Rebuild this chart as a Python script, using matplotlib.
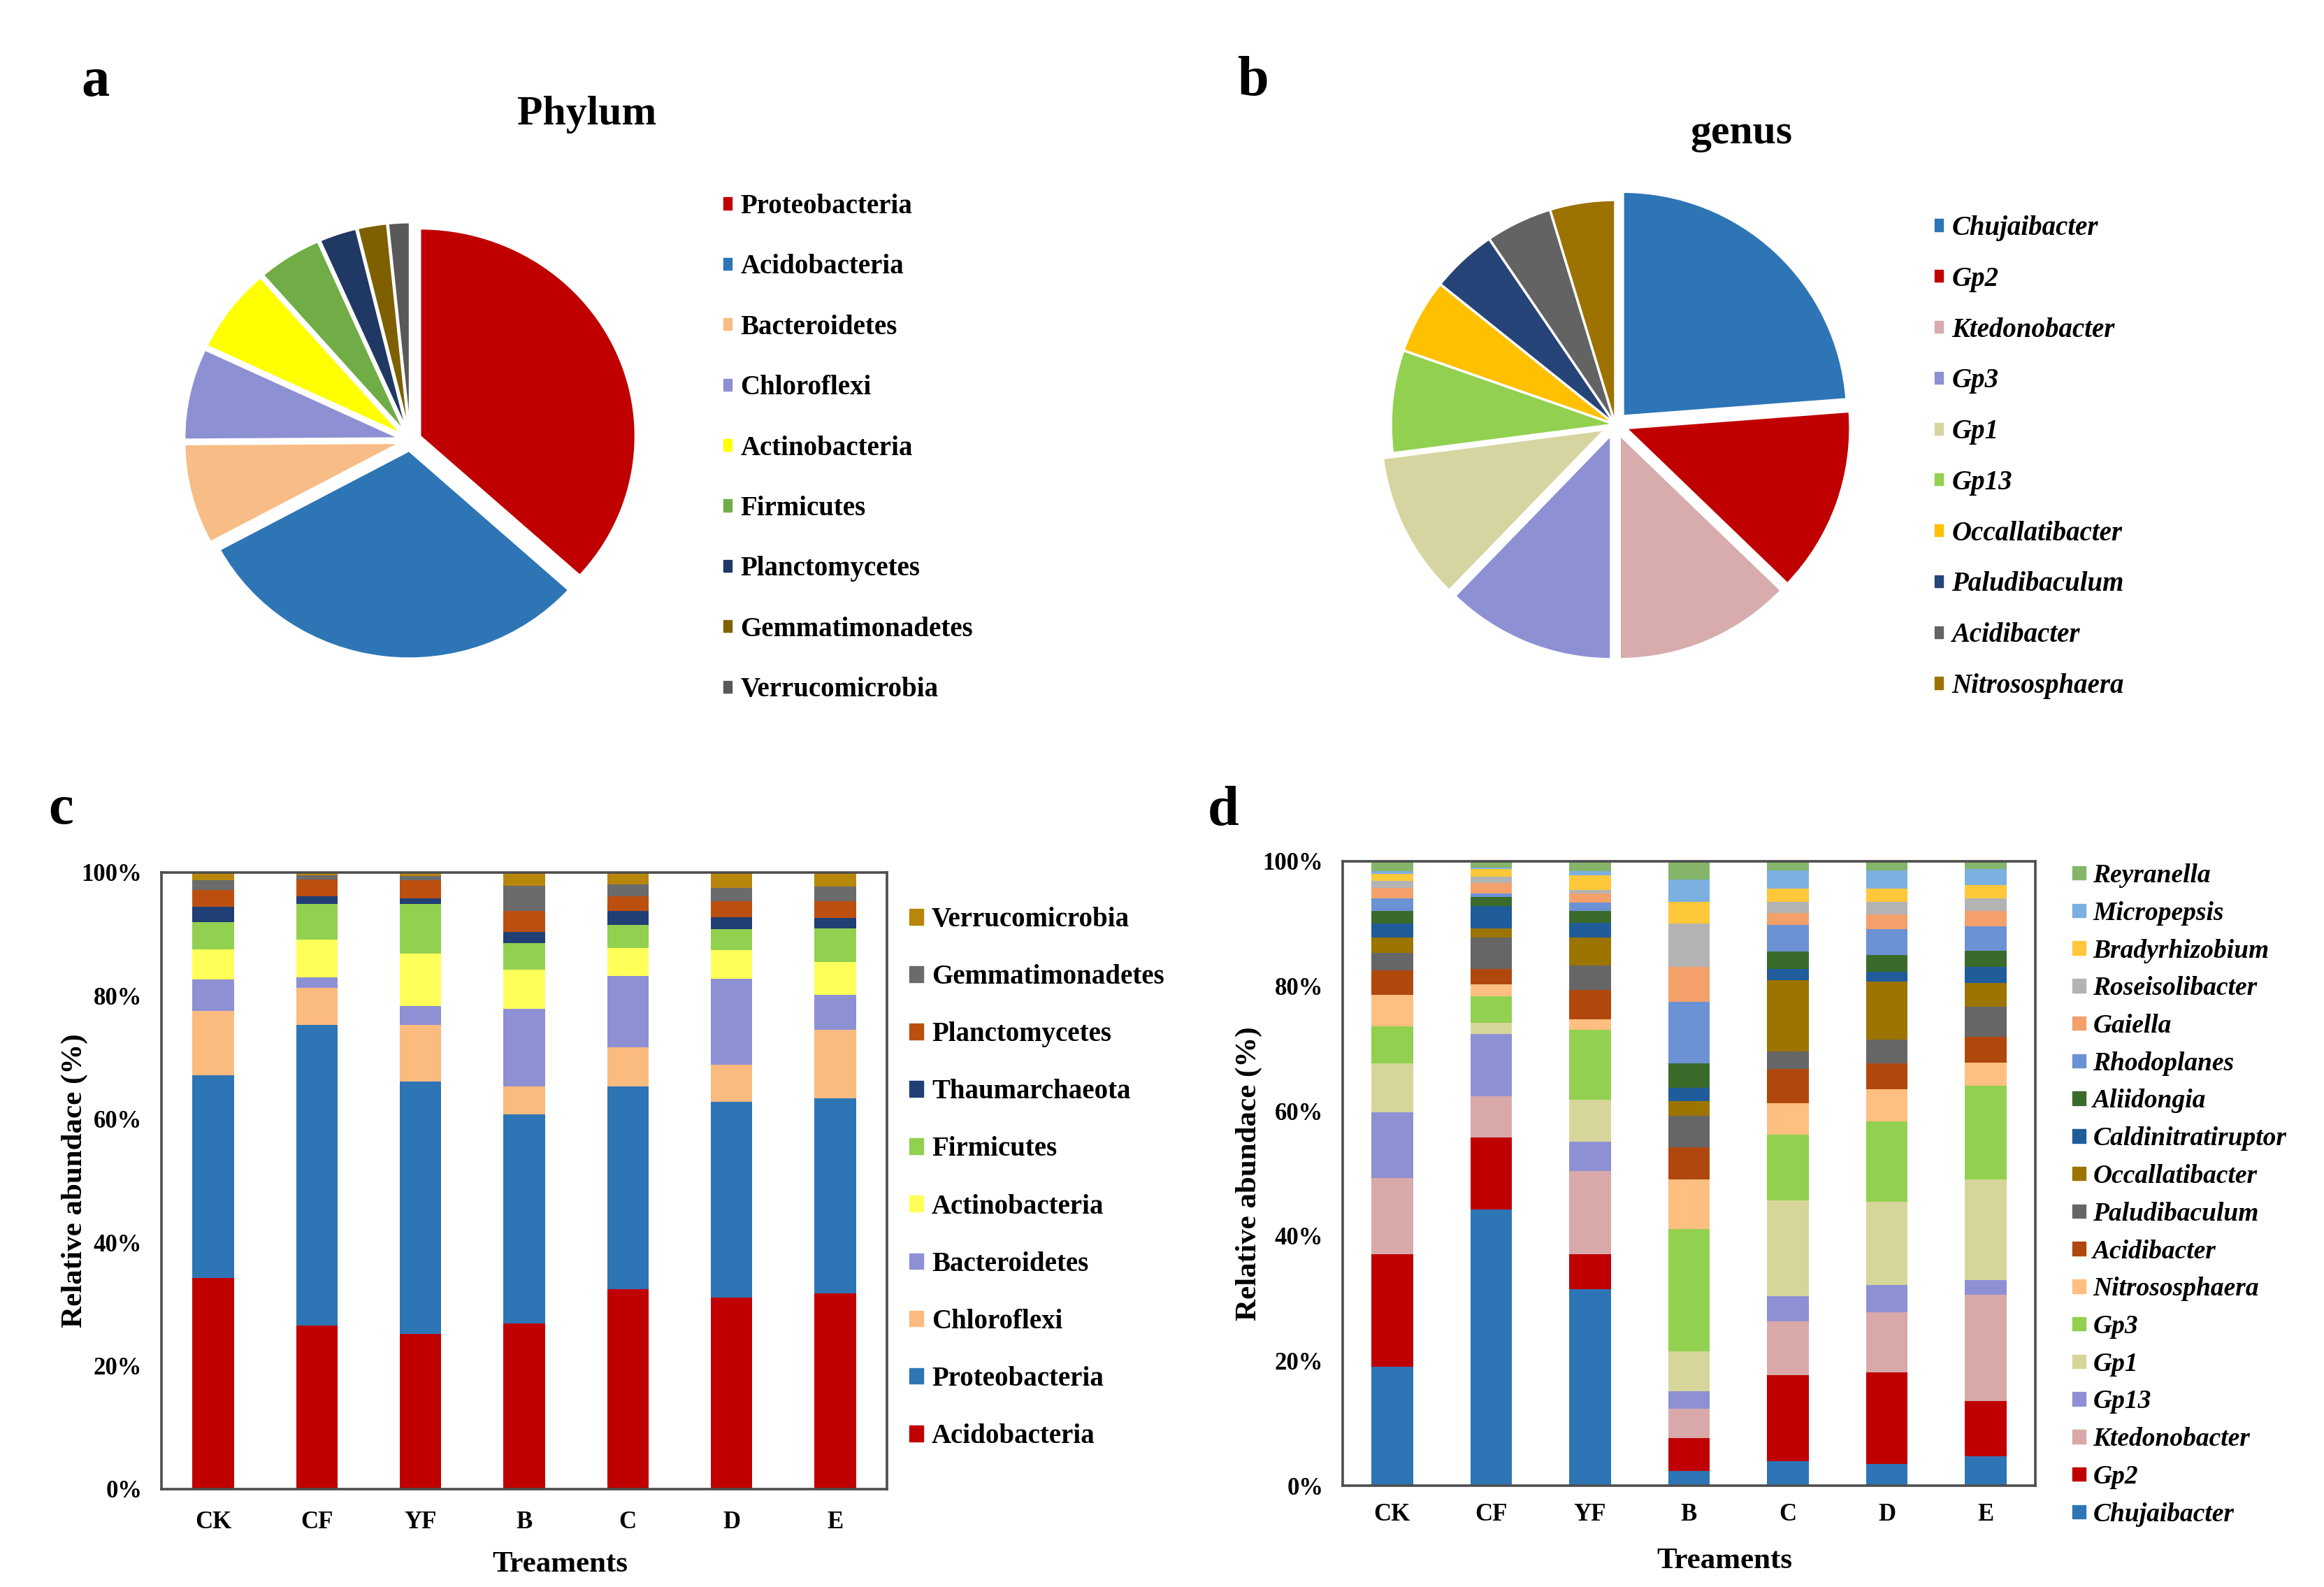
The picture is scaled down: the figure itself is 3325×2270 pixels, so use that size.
import matplotlib
matplotlib.use('Agg')
import matplotlib.pyplot as plt
from matplotlib.patches import Patch
import numpy as np

plt.rcParams['font.family'] = ['Liberation Serif', 'DejaVu Serif']
plt.rcParams['font.weight'] = 'bold'

W, H = 3325, 2270
fig = plt.figure(figsize=(W / 100, H / 100), dpi=100)


def fx(px):
    return px / W


def fy(py):
    return 1 - py / H


# ---------------- data ----------------
phylum_pie_labels = ['Proteobacteria', 'Acidobacteria', 'Bacteroidetes', 'Chloroflexi',
                     'Actinobacteria', 'Firmicutes', 'Planctomycetes', 'Gemmatimonadetes',
                     'Verrucomicrobia']
phylum_pie_values = [36.7, 30.4, 7.8, 7.1, 6.6, 4.8, 2.8, 2.2, 1.6]
phylum_pie_colors = ['#C00000', '#2E75B6', '#F8BC86', '#8E90D4', '#FFFF00', '#70AD47',
                     '#203864', '#7F6000', '#595959']

genus_pie_labels = ['Chujaibacter', 'Gp2', 'Ktedonobacter', 'Gp3', 'Gp1', 'Gp13',
                    'Occallatibacter', 'Paludibaculum', 'Acidibacter', 'Nitrososphaera']
genus_pie_values = [23.8, 13.4, 12.8, 12.25, 10.7, 7.4, 5.4, 4.75, 4.8, 4.7]
genus_pie_colors = ['#2E75B6', '#C00000', '#D8ACAC', '#8E90D4', '#D6D5A1', '#92D050',
                    '#FFC000', '#264478', '#636363', '#9C7300']
genus_pie_explode = [0.05, 0.05, 0.05, 0.05, 0.05, 0, 0, 0, 0, 0]

treatments = ['CK', 'CF', 'YF', 'B', 'C', 'D', 'E']

phylum_bar_labels = ['Acidobacteria', 'Proteobacteria', 'Chloroflexi', 'Bacteroidetes',
                     'Actinobacteria', 'Firmicutes', 'Thaumarchaeota', 'Planctomycetes',
                     'Gemmatimonadetes', 'Verrucomicrobia']
phylum_bar_colors = ['#C00000', '#2E75B6', '#FBBA7E', '#8E90D4', '#FFFF5A', '#92D050',
                     '#203F74', '#BC4F10', '#6B6B6B', '#B8860B']
Acidobacteria = [34.2, 26.5, 25.2, 26.9, 32.4, 31.1, 31.7]
Proteobacteria = [32.9, 48.8, 40.9, 33.9, 32.9, 31.7, 31.7]
Chloroflexi = [10.4, 6.0, 9.2, 4.5, 6.4, 6.0, 11.1]
Bacteroidetes = [5.1, 1.7, 3.0, 12.6, 11.5, 14.0, 5.7]
Actinobacteria = [4.9, 6.1, 8.5, 6.3, 4.5, 4.6, 5.3]
Firmicutes = [4.4, 5.8, 8.1, 4.3, 3.8, 3.4, 5.4]
Thaumarchaeota = [2.6, 1.3, 0.9, 1.9, 2.3, 2.0, 1.7]
Planctomycetes = [2.7, 2.7, 2.9, 3.4, 2.4, 2.5, 2.7]
Gemmatimonadetes = [1.5, 0.6, 0.7, 4.1, 1.9, 2.2, 2.4]
Verrucomicrobia = [1.3, 0.5, 0.6, 2.1, 1.9, 2.5, 2.3]
phylum_bar_values = [Acidobacteria, Proteobacteria, Chloroflexi, Bacteroidetes,
                     Actinobacteria, Firmicutes, Thaumarchaeota, Planctomycetes,
                     Gemmatimonadetes, Verrucomicrobia]

genus_bar_labels = ['Chujaibacter', 'Gp2', 'Ktedonobacter', 'Gp13', 'Gp1', 'Gp3',
                    'Nitrososphaera', 'Acidibacter', 'Paludibaculum', 'Occallatibacter',
                    'Caldinitratiruptor', 'Aliidongia', 'Rhodoplanes', 'Gaiella',
                    'Roseisolibacter', 'Bradyrhizobium', 'Micropepsis', 'Reyranella']
genus_bar_colors = ['#2E75B6', '#C00000', '#D9A9A9', '#8E90D4', '#D6D69A', '#92D050',
                    '#FFBF80', '#B0480E', '#666666', '#9C7400', '#1F5C99', '#3B6B2A',
                    '#6B92D4', '#F4A06A', '#B3B3B3', '#FFC83A', '#7BB0E0', '#84B56A']
Chujaibacter = [19.0, 44.2, 31.5, 2.4, 3.9, 3.5, 4.7]
Gp2 = [18.1, 11.6, 5.6, 5.2, 13.8, 14.6, 8.9]
Ktedonobacter = [12.2, 6.6, 13.3, 4.7, 8.6, 9.7, 17.0]
Gp13 = [10.5, 9.9, 4.7, 2.8, 4.1, 4.3, 2.3]
Gp1 = [7.8, 1.8, 6.7, 6.4, 15.3, 13.4, 16.1]
Gp3 = [6.0, 4.3, 11.2, 19.6, 10.5, 12.8, 15.1]
Nitrososphaera = [5.0, 1.9, 1.7, 8.0, 5.1, 5.2, 3.7]
Acidibacter = [3.9, 2.4, 4.7, 5.1, 5.4, 4.1, 4.1]
Paludibaculum = [2.8, 5.1, 3.9, 5.0, 2.8, 3.9, 4.8]
Occallatibacter = [2.5, 1.4, 4.5, 2.4, 11.5, 9.2, 3.8]
Caldinitratiruptor = [2.2, 3.6, 2.4, 2.1, 1.7, 1.6, 2.6]
Aliidongia = [2.0, 1.5, 1.8, 3.9, 2.8, 2.7, 2.6]
Rhodoplanes = [2.1, 0.5, 1.4, 9.9, 4.3, 4.1, 3.9]
Gaiella = [1.7, 1.7, 1.4, 5.6, 1.9, 2.4, 2.4]
Roseisolibacter = [1.1, 1.0, 0.6, 6.9, 1.8, 2.0, 2.1]
Bradyrhizobium = [1.1, 1.3, 2.4, 3.5, 2.1, 2.1, 2.1]
Micropepsis = [0.4, 0.2, 0.6, 3.6, 3.0, 3.0, 2.6]
Reyranella = [1.6, 1.0, 1.6, 2.9, 1.4, 1.4, 1.2]
genus_bar_values = [Chujaibacter, Gp2, Ktedonobacter, Gp13, Gp1, Gp3, Nitrososphaera,
                    Acidibacter, Paludibaculum, Occallatibacter, Caldinitratiruptor,
                    Aliidongia, Rhodoplanes, Gaiella, Roseisolibacter, Bradyrhizobium,
                    Micropepsis, Reyranella]

y_ticks = [0, 20, 40, 60, 80, 100]
y_tick_labels = ['0%', '20%', '40%', '60%', '80%', '100%']

# ---------------- panel letters & titles ----------------
for txt, x, y in [('a', 116, 137), ('b', 1771, 136), ('c', 69, 1178), ('d', 1728, 1180)]:
    fig.text(fx(x), fy(y), txt, fontsize=58, fontweight='bold', ha='left', va='baseline')
fig.text(fx(840), fy(178), 'Phylum', fontsize=43, fontweight='bold', ha='center', va='baseline')
fig.text(fx(2491), fy(205), 'genus', fontsize=43, fontweight='bold', ha='center', va='baseline')


# ---------------- pies ----------------
def pie_axes(cx, cy, rx, ry):
    return fig.add_axes([fx(cx - 1.25 * rx), fy(cy + 1.25 * ry), 2.5 * rx / W, 2.5 * ry / H])


ax_a = pie_axes(587, 630, 308, 297)
ax_a.pie(phylum_pie_values, colors=phylum_pie_colors, startangle=90, counterclock=False,
         explode=[0.05] * len(phylum_pie_values),
         wedgeprops=dict(edgecolor='white', linewidth=2))
ax_a.set_xlim(-1.25, 1.25)
ax_a.set_ylim(-1.25, 1.25)
ax_a.set_aspect('auto')
ax_a.legend([Patch(color=c) for c in phylum_pie_colors], phylum_pie_labels,
            loc='upper left', bbox_to_anchor=(fx(1035), fy(277)), bbox_transform=fig.transFigure,
            frameon=False, borderpad=0, borderaxespad=0, fontsize=28,
            handlelength=0.3, handleheight=0.3, handletextpad=0.33, labelspacing=1.27)

ax_b = pie_axes(2311, 607, 321, 321)
ax_b.pie(genus_pie_values, colors=genus_pie_colors, startangle=90, counterclock=False,
         explode=genus_pie_explode,
         wedgeprops=dict(edgecolor='white', linewidth=2.5))
ax_b.set_xlim(-1.25, 1.25)
ax_b.set_ylim(-1.25, 1.25)
ax_b.set_aspect('auto')
ax_b.legend([Patch(color=c) for c in genus_pie_colors], genus_pie_labels,
            loc='upper left', bbox_to_anchor=(fx(2768), fy(308)), bbox_transform=fig.transFigure,
            frameon=False, borderpad=0, borderaxespad=0,
            prop=dict(size=28, weight='bold', style='italic'),
            handlelength=0.3, handleheight=0.3, handletextpad=0.33, labelspacing=0.92)


# ---------------- stacked bars ----------------
def stacked(ax, values, colors, width):
    x = np.arange(len(treatments))
    bottom = np.zeros(len(treatments))
    for vals, col in zip(values, colors):
        v = np.array(vals)
        ax.bar(x, v, bottom=bottom, width=width, color=col, linewidth=0)
        bottom += v
    ax.set_xlim(-0.5, len(treatments) - 0.5)
    ax.set_ylim(0, 100)
    ax.set_xticks(x)
    ax.set_xticklabels(treatments)
    ax.set_yticks(y_ticks)
    ax.set_yticklabels(y_tick_labels)
    ax.tick_params(axis='both', length=0, labelsize=25)
    ax.tick_params(axis='y', pad=20)
    ax.tick_params(axis='x', pad=22)
    for s in ax.spines.values():
        s.set_color('#4D4D4D')
        s.set_linewidth(2.6)
    ax.set_ylabel('Relative abundace (%)', fontsize=31, fontweight='bold')
    ax.set_xlabel('Treaments', fontsize=31, fontweight='bold')


ax_c = fig.add_axes([fx(231), fy(2130), 1038 / W, 882 / H])
stacked(ax_c, phylum_bar_values, phylum_bar_colors, 0.4)
ax_c.yaxis.set_label_coords(-0.101, 0.5)
ax_c.xaxis.set_label_coords(0.549, -0.101)
hc = [Patch(color=c) for c in phylum_bar_colors][::-1]
ax_c.legend(hc, phylum_bar_labels[::-1], loc='upper left',
            bbox_to_anchor=(fx(1301), fy(1297)), bbox_transform=fig.transFigure,
            frameon=False, borderpad=0, borderaxespad=0, fontsize=28,
            handlelength=0.52, handleheight=0.52, handletextpad=0.3, labelspacing=1.16)

ax_d = fig.add_axes([fx(1921), fy(2125), 991 / W, 893 / H])
stacked(ax_d, genus_bar_values, genus_bar_colors, 0.42)
ax_d.tick_params(axis='x', pad=18)
ax_d.yaxis.set_label_coords(-0.116, 0.5)
ax_d.xaxis.set_label_coords(0.551, -0.100)
hd = [Patch(color=c) for c in genus_bar_colors][::-1]
ax_d.legend(hd, genus_bar_labels[::-1], loc='upper left',
            bbox_to_anchor=(fx(2965), fy(1235)), bbox_transform=fig.transFigure,
            frameon=False, borderpad=0, borderaxespad=0,
            prop=dict(size=27, weight='bold', style='italic'),
            handlelength=0.5, handleheight=0.42, handletextpad=0.28, labelspacing=0.50)

fig.savefig('out.png', dpi=100)
